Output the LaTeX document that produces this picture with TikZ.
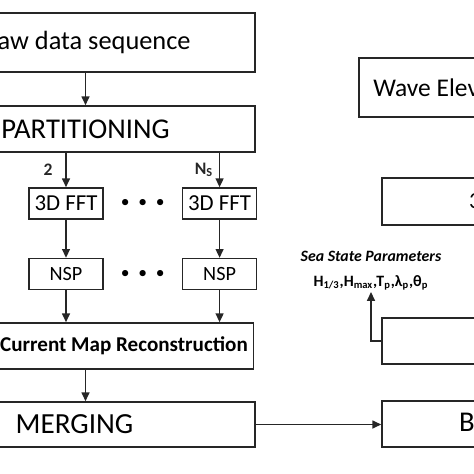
\documentclass[tikz,border=0pt]{standalone}
\usepackage{fontspec}
\setmainfont{Carlito}
\usetikzlibrary{arrows.meta, positioning, calc}

\begin{document}
\begin{tikzpicture}[
    box/.style={draw=black!85, line width=0.9pt, inner sep=0pt, text=black},
    big/.style={box, font=\fontsize{16.3}{19}\selectfont},
    small/.style={box, minimum width=1.48cm, minimum height=0.62cm},
    lbl/.style={font=\fontsize{10}{12}\selectfont\bfseries},
    dots/.style={font=\fontsize{10}{12}\selectfont},
    flow/.style={-{Triangle[length=5pt,width=4.5pt]}, line width=0.8pt, black!85}]
  \useasboundingbox (0,0) rectangle (9.48,-9.48);

  % left column
  \node[big, font=\fontsize{15}{18}\selectfont, minimum width=6.72cm, minimum height=1.18cm]
        (raw) at (1.74,-0.85) {Raw data sequence};
  \node[big, minimum width=6.78cm, minimum height=0.92cm] (part) at (1.71,-2.58) {PARTITIONING};

  \node[small, font=\fontsize{13}{15}\selectfont] (fft1) at (1.32,-4.07) {3D FFT};
  \node[small, font=\fontsize{13}{15}\selectfont, right=1.56cm of fft1] (fft2) {3D FFT};
  \node[small, font=\fontsize{11.5}{14}\selectfont, below=0.76cm of fft1] (nsp1) {NSP};
  \node[small, font=\fontsize{11.5}{14}\selectfont, below=0.76cm of fft2] (nsp2) {NSP};
  \node[dots] (dotsA) at ($(fft1)!0.5!(fft2)$) {\textbullet\hspace{5pt}\textbullet\hspace{5pt}\textbullet};
  \node[dots] (dotsB) at ($(nsp1)!0.5!(nsp2)$) {\textbullet\hspace{5pt}\textbullet\hspace{5pt}\textbullet};

  \node[box, font=\fontsize{12}{14}\selectfont\bfseries, minimum width=5.18cm, minimum height=0.92cm]
        (map) at (2.48,-6.92) {Current Map Reconstruction};
  \node[big, font=\fontsize{16.6}{19}\selectfont, minimum width=7.22cm, minimum height=0.9cm]
        (merge) at (1.49,-8.49) {MERGING};

  % right column
  \node[box, font=\fontsize{14.5}{17}\selectfont, minimum width=3.74cm, minimum height=1.18cm]
        (wave) at (9.05,-1.75) {Wave Elevation};
  \node[box, font=\fontsize{13}{15}\selectfont, minimum width=4.74cm, minimum height=0.94cm]
        (fft3) at (10.01,-4.03) {3D FFT};
  \node[box, minimum width=4.72cm, minimum height=0.92cm] (low) at (10,-6.82) {};
  \node[big, minimum width=5.8cm, minimum height=0.92cm] (bath) at (10.54,-8.48) {Bathymetry};

  \node[anchor=south, align=center, inner sep=1pt, font=\fontsize{9}{14}\selectfont\bfseries]
        (ssp) at (7.42,-5.84)
        {\textit{Sea State Parameters}\\
         H\textsubscript{1/3},H\textsubscript{max},T\textsubscript{p},λ\textsubscript{p},θ\textsubscript{p}};

  % connectors
  \draw[flow] (raw.south -| part.north) -- (part.north);
  \draw[flow] (fft1.north |- part.south) -- node[left=0.14cm, lbl] {2} (fft1.north);
  \draw[flow] (fft2.north |- part.south) -- node[left=0pt, lbl] {N\textsubscript{S}} (fft2.north);
  \draw[flow] (fft1) -- (nsp1);
  \draw[flow] (fft2) -- (nsp2);
  \draw[flow] (nsp1) -- (nsp1 |- map.north);
  \draw[flow] (nsp2) -- (nsp2 |- map.north);
  \draw[flow] (map.south -| part.north) -- (merge.north -| part.north);
  \draw[flow] (merge.east) -- (merge.east -| bath.west);
  \draw[flow] (low.west) -| (ssp.south);
\end{tikzpicture}
\end{document}
